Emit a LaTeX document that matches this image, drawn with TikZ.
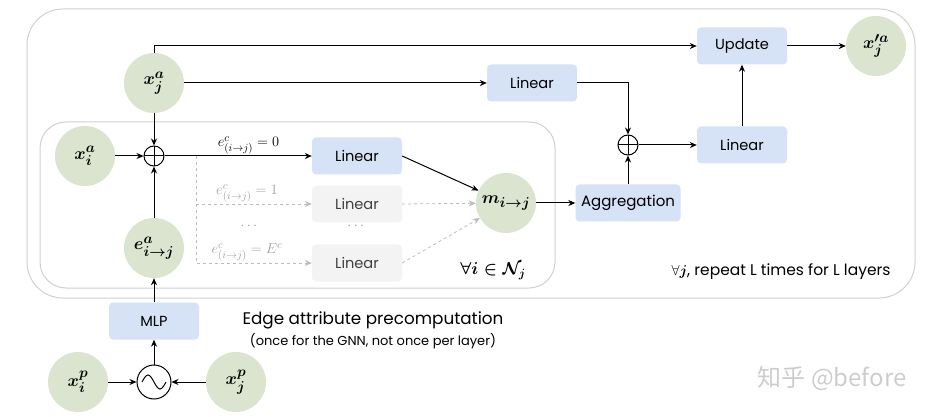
\documentclass[tikz,border=0pt]{standalone}
\usepackage{amsmath}
\usepackage{fontspec}
\setmainfont{Poppins}
\newfontfamily\cjk{Noto Sans CJK SC}
\usepackage{tikz}
\usetikzlibrary{arrows.meta, positioning, calc}
\definecolor{featgreen}{RGB}{219,228,206}
\definecolor{boxblue}{RGB}{214,226,245}
\definecolor{boxgray}{RGB}{243,243,243}
\definecolor{framegray}{RGB}{208,208,208}
\definecolor{ghostgray}{RGB}{160,160,160}
\definecolor{wmgray}{RGB}{205,205,205}
\tikzset{
  feat/.style={circle, fill=featgreen, minimum size=60pt, inner sep=0pt,
    font=\fontsize{19}{22}\selectfont\boldmath},
  block/.style={rectangle, fill=boxblue, minimum width=90pt, minimum height=37pt,
    rounded corners=4pt, font=\fontsize{14.6}{16}\selectfont},
  ghostblock/.style={block, fill=boxgray, text=black!75},
  sumnode/.style={circle, draw, line width=1pt, minimum size=20pt, inner sep=0pt,
    path picture={\draw[line width=1pt] (path picture bounding box.north) -- (path picture bounding box.south)
      (path picture bounding box.west) -- (path picture bounding box.east);}},
  oscnode/.style={circle, draw, line width=1pt, minimum size=34pt, inner sep=0pt},
  frame/.style={draw=framegray, line width=1pt},
  arrow/.style={-{Stealth[length=7pt, width=6pt]}, line width=1pt},
  ghostarrow/.style={-{Stealth[length=7pt, width=6pt]}, line width=0.8pt, ghostgray!70, dashed},
  edgelbl/.style={font=\fontsize{15}{17}\selectfont, inner sep=1pt}
}
\begin{document}
\begin{tikzpicture}[x=1pt, y=1pt]
  \useasboundingbox (0,0) rectangle (930,-417);

  % frames
  \draw[frame, rounded corners=36pt] (27,-9) rectangle (915,-298);
  \draw[frame, rounded corners=26pt] (40,-122) rectangle (555,-288);

  % node features
  \node[feat] (xja) at (154,-83) {$x^a_j$};
  \node[feat] (xia) at (85,-156) {$x^a_i$};
  \node[feat] (eaij) at (154,-248) {$e^a_{i\to j}$};
  \node[feat] (mij) at (506,-203) {$m_{i\to j}$};
  \node[feat] (xjnew) at (876,-46) {$x'^a_j$};
  \node[feat] (xip) at (78,-382) {$x^p_i$};
  \node[feat] (xjp) at (236,-382) {$x^p_j$};

  \node[sumnode] (sumL) at (154,-156) {};
  \node[sumnode] (sumR) at (628,-145) {};
  \node[oscnode] (osc) at (154,-382) {};
  \draw[line width=1pt] ($(osc.center)+(-12,0)$) sin ++(6,7) cos ++(6,-7) sin ++(6,-7) cos ++(6,7);

  % blocks
  \node[block] (mlp) at (154,-321) {MLP};
  \node[block] (linA) at (357,-156) {Linear};
  \node[ghostblock] (linB) at (357,-204) {Linear};
  \node[ghostblock] (linC) at (357,-263) {Linear};
  \node[block] (lin0) at (532,-83) {Linear};
  \node[block, minimum width=105pt, font=\fontsize{15}{17}\selectfont] (agg) at (628,-203) {Aggregation};
  \node[block] (linR) at (742,-145) {Linear};
  \node[block] (upd) at (742,-46) {Update};

  % edge types
  \coordinate (split) at (196,-156);
  \draw[arrow] (sumL) -- node[edgelbl, above, pos=0.57] {$e^c_{(i\to j)}=0$} (linA);
  \draw[ghostarrow] (split) |- node[edgelbl, above, pos=0.72, text=ghostgray] {$e^c_{(i\to j)}=1$} (linB);
  \draw[ghostarrow] (split) |- node[edgelbl, above, pos=0.72, text=ghostgray] {$e^c_{(i\to j)}=E^c$} (linC);
  \node[edgelbl, text=ghostgray] (dotsL) at (250,-226) {$\cdots$};
  \node[edgelbl, text=ghostgray] (dotsR) at (357,-226) {$\cdots$};

  % message passing
  \draw[arrow] (xja.north) |- (upd.west);
  \draw[arrow] (xja) -- (lin0);
  \draw[arrow] (xja) -- (sumL);
  \draw[arrow] (xia) -- (sumL);
  \draw[arrow] (eaij) -- (sumL);
  \draw[arrow] (linA.east) -- (mij);
  \draw[ghostarrow] (linB.east) -- (mij);
  \draw[ghostarrow] (linC.east) -- (mij);
  \draw[arrow] (mij) -- (agg);
  \draw[arrow] (agg) -- (sumR);
  \draw[arrow] (lin0.east) -| (sumR);
  \draw[arrow] (sumR) -- (linR);
  \draw[arrow] (linR) -- (upd);
  \draw[arrow] (upd) -- (xjnew);

  % edge attribute precomputation
  \draw[arrow] (mlp) -- (eaij);
  \draw[arrow] (osc) -- (mlp);
  \draw[arrow] (xip) -- (osc);
  \draw[arrow] (xjp) -- (osc);

  % texts
  \node[font=\fontsize{16.5}{19}\selectfont\boldmath] (forall_i) at (493,-271) {$\forall i\in\mathcal{N}_j$};
  \node[font=\fontsize{15.5}{18}\selectfont] (forall_j) at (781,-272) {$\forall \boldsymbol{j}$, repeat L times for L layers};
  \node[font=\fontsize{16.8}{19}\selectfont] (precomp) at (373,-320) {Edge attribute precomputation};
  \node[font=\fontsize{13}{15}\selectfont] (precompnote) at (373,-341) {(once for the GNN, not once per layer)};
  \node[font=\fontsize{24}{26}\selectfont, text=wmgray] (wmark) at (832,-378) {\cjk 知乎 @before};
\end{tikzpicture}
\end{document}
